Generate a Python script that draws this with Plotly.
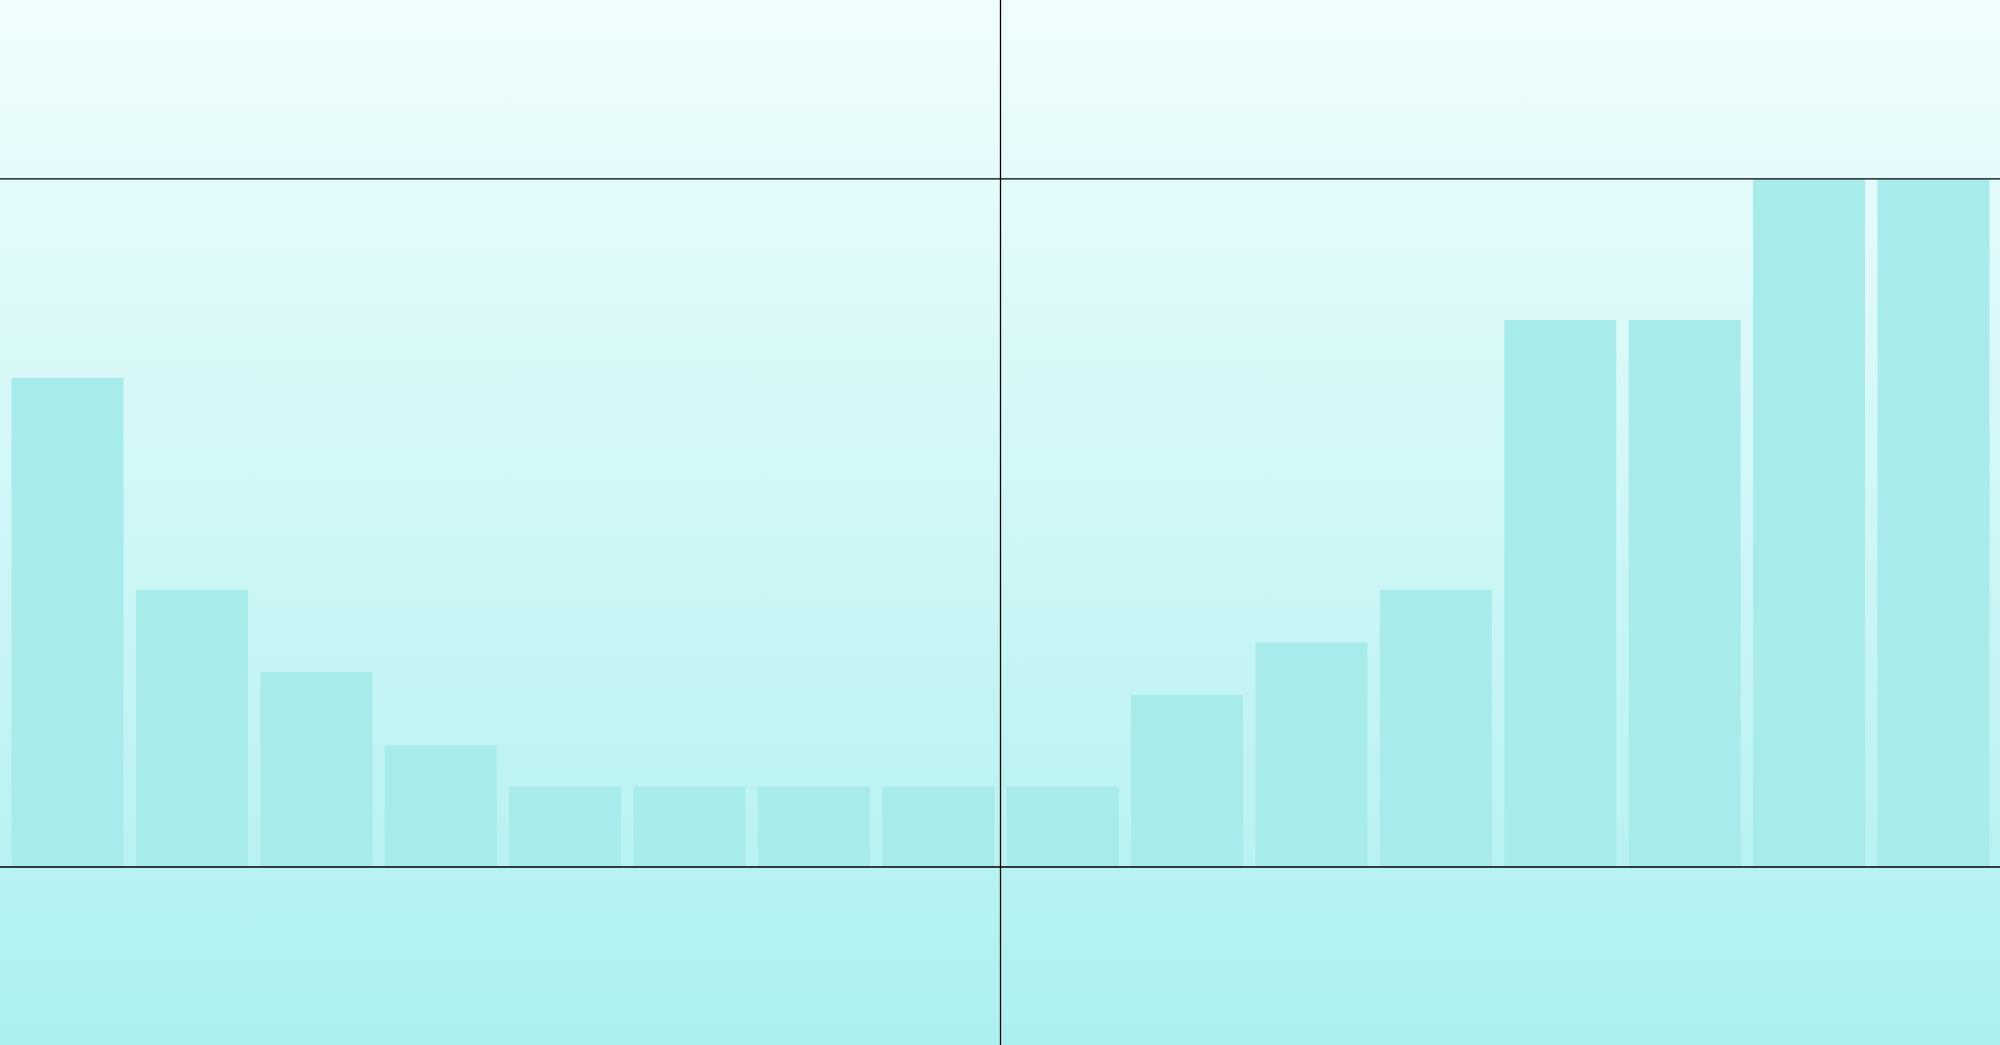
import plotly.graph_objects as go

# bar data (top line = 100)
periods = list(range(16))
values = [71.1, 40.3, 28.3, 17.7, 11.7, 11.7, 11.7, 11.7, 11.7,
          25.0, 32.6, 40.3, 79.5, 79.5, 100, 100]
guide_y = [0, 100]
guide_x = [7.5]

# vertical background gradient as an inline svg
bg_svg = (
    "data:image/svg+xml;utf8,"
    "<svg xmlns='http://www.w3.org/2000/svg' width='10' height='100' preserveAspectRatio='none'>"
    "<defs><linearGradient id='g' x1='0' y1='0' x2='0' y2='1'>"
    "<stop offset='0' stop-color='%23f0fdfd'/><stop offset='1' stop-color='%23adf0f0'/>"
    "</linearGradient></defs><rect width='10' height='100' fill='url(%23g)'/></svg>"
)

fig = go.Figure()
fig.add_trace(go.Bar(x=periods, y=values, marker_color="#a7ebea",
                     marker_line_width=0, showlegend=False))

# black guide lines drawn over the bars
for gy in guide_y:
    fig.add_hline(y=gy, line_color="black", line_width=1.3, layer="above")
for gx in guide_x:
    fig.add_vline(x=gx, line_color="black", line_width=1.3, layer="above")

fig.update_layout(
    width=2000, height=1045,
    margin=dict(l=0, r=0, t=0, b=0),
    paper_bgcolor="rgba(0,0,0,0)",
    plot_bgcolor="rgba(0,0,0,0)",
    bargap=0.1,
    images=[dict(source=bg_svg, xref="paper", yref="paper", x=0, y=1,
                 sizex=1, sizey=1, sizing="stretch", layer="below",
                 xanchor="left", yanchor="top")],
)
fig.update_xaxes(range=[-0.543, 15.535], showgrid=False, zeroline=False,
                 showticklabels=False, ticks="")
fig.update_yaxes(range=[-25.87, 126.0], showgrid=False, zeroline=False,
                 showticklabels=False, ticks="")

fig.write_html("out.html", config={"displayModeBar": False},
               post_script="document.body.style.margin='0';document.body.style.overflow='hidden';")
